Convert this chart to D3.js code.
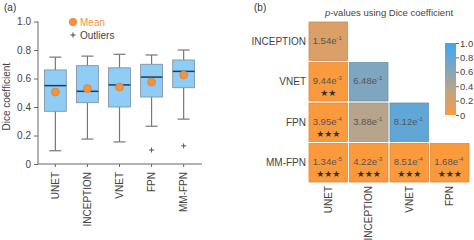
<!DOCTYPE html>
<html>
<head>
<meta charset="utf-8">
<script src="https://cdn.jsdelivr.net/npm/d3@7/dist/d3.min.js"></script>
<style>
  body { margin: 0; background: #fff; }
  svg { font-family: "Liberation Sans", Arial, sans-serif; }
</style>
</head>
<body>
<div id="chart"></div>
<script>
// box plot data
const models = ["UNET", "INCEPTION", "VNET", "FPN", "MM-FPN"];
const whiskerLow = [0.093, 0.175, 0.155, 0.265, 0.315];
const q1 = [0.37, 0.43, 0.40, 0.47, 0.535];
const medians = [0.55, 0.51, 0.555, 0.61, 0.65];
const q3 = [0.66, 0.69, 0.675, 0.70, 0.73];
const whiskerHigh = [0.75, 0.757, 0.77, 0.765, 0.80];
const means = [0.505, 0.53, 0.54, 0.575, 0.625];
const outliers = [[], [], [], [0.098], [0.127]];
const yTicks = [0, 0.2, 0.4, 0.6, 0.8, 1.0];

// p-value matrix (lower triangle)
const rowNames = ["INCEPTION", "VNET", "FPN", "MM-FPN"];
const colNames = ["UNET", "INCEPTION", "VNET", "FPN"];
const pMantissa = [
  ["1.54"],
  ["9.44", "6.48"],
  ["3.95", "3.88", "8.12"],
  ["1.34", "4.22", "8.51", "1.68"]
];
const pExponent = [
  [-1],
  [-3, -1],
  [-4, -1, -1],
  [-5, -3, -4, -4]
];
const pStars = [
  [0],
  [2, 0],
  [3, 0, 0],
  [3, 3, 3, 3]
];
const cbTicks = [0, 0.2, 0.4, 0.6, 0.8, 1.0];

const W = 474, H = 240;
const svg = d3.select("#chart").append("svg")
  .attr("width", W).attr("height", H);

const textCol = "#444";

// ---------- panel (a) ----------
svg.append("text").attr("x", 4).attr("y", 11)
  .style("font-size", "10px").style("fill", "#333").text("(a)");

const y = d3.scaleLinear().domain([0, 1]).range([164, 21.5]);
const x = d3.scaleBand().domain(models).range([39, 200]).paddingInner(0.32).paddingOuter(0.17);

const yAxis = svg.append("g").attr("transform", "translate(38,0)")
  .call(d3.axisLeft(y).tickValues(yTicks).tickSize(4)
    .tickFormat(d => d === 0 ? "0" : d3.format(".1f")(d)));
yAxis.select(".domain").attr("stroke", "#666").attr("d", `M0,${y(1)}V${y(0)}`);
yAxis.selectAll(".tick line").attr("stroke", "#666");
yAxis.selectAll(".tick text").style("font-size", "10px").style("fill", textCol)
  .attr("font-family", "Liberation Sans, Arial, sans-serif");

const xAxis = svg.append("g").attr("transform", `translate(0,${y(0)})`)
  .call(d3.axisBottom(x).tickSize(3).tickSizeOuter(0));
xAxis.select(".domain").attr("stroke", "#666").attr("d", "M38,0H202");
xAxis.selectAll(".tick line").attr("stroke", "#666");
xAxis.selectAll(".tick text")
  .attr("transform", "rotate(-90)")
  .attr("x", -8).attr("y", 0).attr("dy", "0.35em")
  .style("text-anchor", "end")
  .style("font-size", "10px").style("fill", textCol)
  .attr("font-family", "Liberation Sans, Arial, sans-serif");

svg.append("text")
  .attr("transform", `translate(10,${(y(0) + y(1)) / 2 + 4}) rotate(-90)`)
  .attr("text-anchor", "middle")
  .style("font-size", "10px").style("fill", textCol)
  .text("Dice coefficient");

const boxes = svg.append("g");
models.forEach((m, i) => {
  const cx = x(m) + x.bandwidth() / 2;
  const bw = x.bandwidth();
  const capW = 12;
  const g = boxes.append("g");
  g.append("line").attr("x1", cx).attr("x2", cx)
    .attr("y1", y(whiskerHigh[i])).attr("y2", y(q3[i]))
    .attr("stroke", "#777").attr("stroke-width", 1.2);
  g.append("line").attr("x1", cx).attr("x2", cx)
    .attr("y1", y(q1[i])).attr("y2", y(whiskerLow[i]))
    .attr("stroke", "#777").attr("stroke-width", 1.2);
  [whiskerHigh[i], whiskerLow[i]].forEach(v => {
    g.append("line").attr("x1", cx - capW / 2).attr("x2", cx + capW / 2)
      .attr("y1", y(v)).attr("y2", y(v))
      .attr("stroke", "#777").attr("stroke-width", 1.2);
  });
  g.append("rect").attr("x", x(m)).attr("width", bw)
    .attr("y", y(q3[i])).attr("height", y(q1[i]) - y(q3[i]))
    .attr("fill", "#8fcdf6").attr("stroke", "#7a8c9c").attr("stroke-width", 0.8);
  g.append("line").attr("x1", x(m)).attr("x2", x(m) + bw)
    .attr("y1", y(medians[i])).attr("y2", y(medians[i]))
    .attr("stroke", "#263a54").attr("stroke-width", 1.5);
  g.append("circle").attr("cx", cx).attr("cy", y(means[i])).attr("r", 4)
    .attr("fill", "#f3923f").attr("stroke", "#d97a30").attr("stroke-width", 0.6);
  outliers[i].forEach(v => {
    const oy = y(v);
    g.append("path")
      .attr("d", `M${cx - 2.5},${oy}H${cx + 2.5}M${cx},${oy - 2.5}V${oy + 2.5}`)
      .attr("stroke", "#555").attr("stroke-width", 1).attr("fill", "none");
  });
});

// legend
svg.append("circle").attr("cx", 73).attr("cy", 22).attr("r", 3.8)
  .attr("fill", "#f3923f").attr("stroke", "#d97a30").attr("stroke-width", 0.6);
svg.append("text").attr("x", 80).attr("y", 25.5)
  .style("font-size", "10px").style("fill", "#f3923f").text("Mean");
svg.append("path").attr("d", "M70.5,35H75.5M73,32.5V37.5")
  .attr("stroke", "#444").attr("stroke-width", 1).attr("fill", "none");
svg.append("text").attr("x", 80).attr("y", 38.5)
  .style("font-size", "10px").style("fill", textCol).text("Outliers");

// ---------- panel (b) ----------
svg.append("text").attr("x", 254).attr("y", 11)
  .style("font-size", "10px").style("fill", "#333").text("(b)");

const title = svg.append("text").attr("x", 389).attr("y", 16)
  .attr("text-anchor", "middle").style("font-size", "9.5px").style("fill", textCol);
title.append("tspan").style("font-style", "italic").text("p");
title.append("tspan").text("-values using Dice coefficient");

const cx2 = d3.scaleBand().domain(colNames).range([309, 469]).paddingInner(0.05);
const cy2 = d3.scaleBand().domain(rowNames).range([22, 182]).paddingInner(0.05);

const color = d3.scaleLinear()
  .domain([0, 0.15, 0.4, 0.65, 1])
  .range(["#fb9a3c", "#dca066", "#b4a58e", "#7ea6c0", "#3fa8ef"])
  .interpolate(d3.interpolateRgb);

const cells = svg.append("g");
rowNames.forEach((r, ri) => {
  pMantissa[ri].forEach((mant, ci) => {
    const p = +mant * Math.pow(10, pExponent[ri][ci]);
    const c = colNames[ci];
    const fill = color(p);
    const x0 = cx2(c), y0 = cy2(r);
    const mid = y0 + cy2.bandwidth() / 2;
    cells.append("rect").attr("x", x0).attr("y", y0)
      .attr("width", cx2.bandwidth()).attr("height", cy2.bandwidth())
      .attr("fill", fill)
      .attr("stroke", d3.color(fill).darker(0.35)).attr("stroke-width", 0.8);
    const t = cells.append("text").attr("x", x0 + cx2.bandwidth() / 2 - 1)
      .attr("y", mid + 2.5).attr("text-anchor", "middle")
      .style("font-size", "9.5px").style("fill", "#555");
    t.append("tspan").text(mant + "e");
    t.append("tspan").attr("dy", -4).style("font-size", "6px").text(pExponent[ri][ci]);
    if (pStars[ri][ci] > 0) {
      cells.append("text").attr("x", x0 + cx2.bandwidth() / 2).attr("y", mid + 14.5)
        .attr("text-anchor", "middle").style("font-size", "9px").style("fill", "#333")
        .attr("font-family", "DejaVu Sans, sans-serif")
        .text("★".repeat(pStars[ri][ci]));
    }
  });
});

// row labels
svg.append("g").selectAll("text").data(rowNames).enter().append("text")
  .attr("x", 306).attr("y", d => cy2(d) + cy2.bandwidth() / 2 + 3.5)
  .attr("text-anchor", "end").style("font-size", "10px").style("fill", textCol)
  .text(d => d);

// column labels
svg.append("g").selectAll("text").data(colNames).enter().append("text")
  .attr("transform", d => `translate(${cx2(d) + cx2.bandwidth() / 2 + 3.5},186) rotate(-90)`)
  .attr("text-anchor", "end").style("font-size", "10px").style("fill", textCol)
  .text(d => d);

// colorbar
const defs = svg.append("defs");
const grad = defs.append("linearGradient").attr("id", "cbgrad")
  .attr("x1", 0).attr("y1", 1).attr("x2", 0).attr("y2", 0);
d3.range(0, 1.0001, 0.05).forEach(v => {
  grad.append("stop").attr("offset", v).attr("stop-color", color(v));
});
const cb = d3.scaleLinear().domain([0, 1]).range([115, 43]);
svg.append("rect").attr("x", 445).attr("y", cb(1)).attr("width", 11)
  .attr("height", cb(0) - cb(1)).attr("fill", "url(#cbgrad)");
const cbAxis = svg.append("g").attr("transform", "translate(456,0)")
  .call(d3.axisRight(cb).tickValues(cbTicks).tickSize(3)
    .tickFormat(d => d === 0 ? "0" : d3.format(".1f")(d)));
cbAxis.select(".domain").remove();
cbAxis.selectAll(".tick line").attr("stroke", "#666");
cbAxis.selectAll(".tick text").style("font-size", "9.5px").style("fill", textCol)
  .attr("x", 4).attr("font-family", "Liberation Sans, Arial, sans-serif");
</script>
</body>
</html>
